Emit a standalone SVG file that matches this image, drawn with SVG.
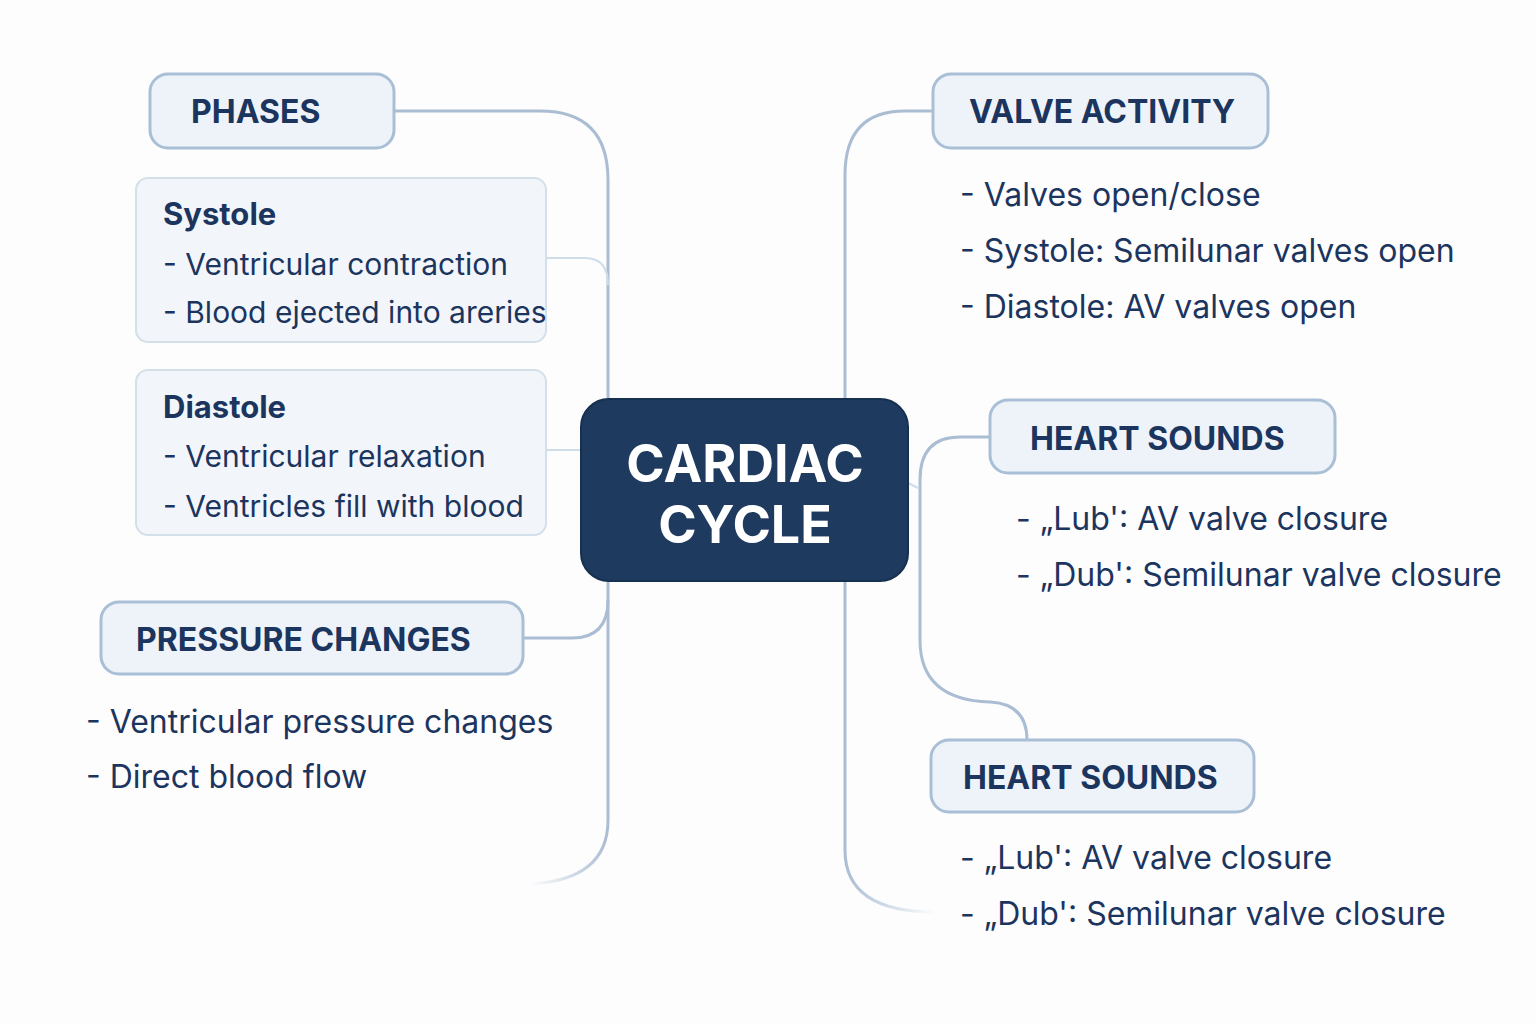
<svg xmlns="http://www.w3.org/2000/svg" width="1536" height="1024" viewBox="0 0 1536 1024">
<style>
.hdr{fill:#eef3f9;stroke:#a9bfd6;stroke-width:3}
.sub{fill:#f2f6fa;stroke:#d3e0ea;stroke-width:2}
.ht{font-family:Inter,"Liberation Sans",sans-serif;font-weight:700;font-size:32px;fill:#1c355e}
.st{font-family:Inter,"Liberation Sans",sans-serif;font-weight:700;font-size:31px;fill:#1c355e}
.it{font-family:Inter,"Liberation Sans",sans-serif;font-size:30px;fill:#1c355e}
.big{font-family:Inter,"Liberation Sans",sans-serif;font-size:32px;fill:#1c355e}
.c{fill:none;stroke:#aabdd3;stroke-width:3}
.c2{fill:none;stroke:#cfdde8;stroke-width:2}
</style>
<defs>
<linearGradient id="fl" x1="0" y1="0" x2="1" y2="0"><stop offset="0" stop-color="#aabdd3" stop-opacity="0"/><stop offset="1" stop-color="#aabdd3"/></linearGradient>
<linearGradient id="fr" x1="0" y1="0" x2="1" y2="0"><stop offset="0" stop-color="#aabdd3"/><stop offset="1" stop-color="#aabdd3" stop-opacity="0"/></linearGradient>
</defs>
<rect width="1536" height="1024" fill="#fdfdfe"/>
<g id="connectors">
<path class="c" d="M394 111 H540 Q608 111 608 180 V820"/>
<path d="M608 820 Q608 880 530 884" fill="none" stroke="url(#fl)" stroke-width="3"/>
<path class="c2" d="M546 258 H585 Q608 258 608 285"/>
<path class="c2" d="M546 450 H582"/>
<path class="c" d="M523 638 H572 Q608 638 608 600"/>
<path class="c" d="M933 111 H905 Q845 111 845 175 V400"/>
<path class="c" d="M845 581 V850"/>
<path d="M845 850 Q845 912 935 912" fill="none" stroke="url(#fr)" stroke-width="3"/>
<path class="c" d="M990 437 H960 Q920 437 920 480 V640 Q920 700 990 702 Q1027 704 1027 740"/>
<path class="c2" d="M908 483 L918 488"/>
</g>
<g id="phases"><rect class="hdr" x="150" y="74" width="244" height="74" rx="18"/><text class="ht" x="191" y="123">PHASES</text></g>
<g id="systole"><rect class="sub" x="136" y="178" width="410" height="164" rx="12"/>
<text class="st" x="163" y="225">Systole</text>
<text class="it" x="163" y="275">-  Ventricular contraction</text>
<text class="it" x="163" y="323">-  Blood ejected into areries</text></g>
<g id="diastole"><rect class="sub" x="136" y="370" width="410" height="165" rx="12"/>
<text class="st" x="163" y="418">Diastole</text>
<text class="it" x="163" y="467">-  Ventricular relaxation</text>
<text class="it" x="163" y="517">-  Ventricles fill with blood</text></g>
<g id="center"><rect x="581" y="399" width="327" height="182" rx="28" fill="#1f3a5f" stroke="#16304f" stroke-width="2"/>
<text x="745" y="482" text-anchor="middle" font-family="Inter,'Liberation Sans',sans-serif" font-weight="700" font-size="52" fill="#ffffff">CARDIAC</text>
<text x="745" y="543" text-anchor="middle" font-family="Inter,'Liberation Sans',sans-serif" font-weight="700" font-size="52" fill="#ffffff">CYCLE</text></g>
<g id="pressure"><rect class="hdr" x="101" y="602" width="422" height="72" rx="18"/><text class="ht" x="136" y="651">PRESSURE CHANGES</text>
<text class="big" x="86" y="733">-  Ventricular pressure changes</text>
<text class="big" x="86" y="788">-  Direct blood flow</text></g>
<g id="valve"><rect class="hdr" x="933" y="74" width="335" height="74" rx="18"/><text class="ht" x="969" y="123">VALVE ACTIVITY</text>
<text class="big" x="960" y="206">-  Valves open/close</text>
<text class="big" x="960" y="262">-  Systole: Semilunar valves open</text>
<text class="big" x="960" y="318">-  Diastole: AV valves open</text></g>
<g id="sounds1"><rect class="hdr" x="990" y="400" width="345" height="73" rx="18"/><text class="ht" x="1030" y="450">HEART SOUNDS</text>
<text class="big" x="1016" y="530">-  „Lub': AV valve closure</text>
<text class="big" x="1016" y="586">-  „Dub': Semilunar valve closure</text></g>
<g id="sounds2"><rect class="hdr" x="931" y="740" width="323" height="72" rx="18"/><text class="ht" x="963" y="789">HEART SOUNDS</text>
<text class="big" x="960" y="869">-  „Lub': AV valve closure</text>
<text class="big" x="960" y="925">-  „Dub': Semilunar valve closure</text></g>
</svg>
